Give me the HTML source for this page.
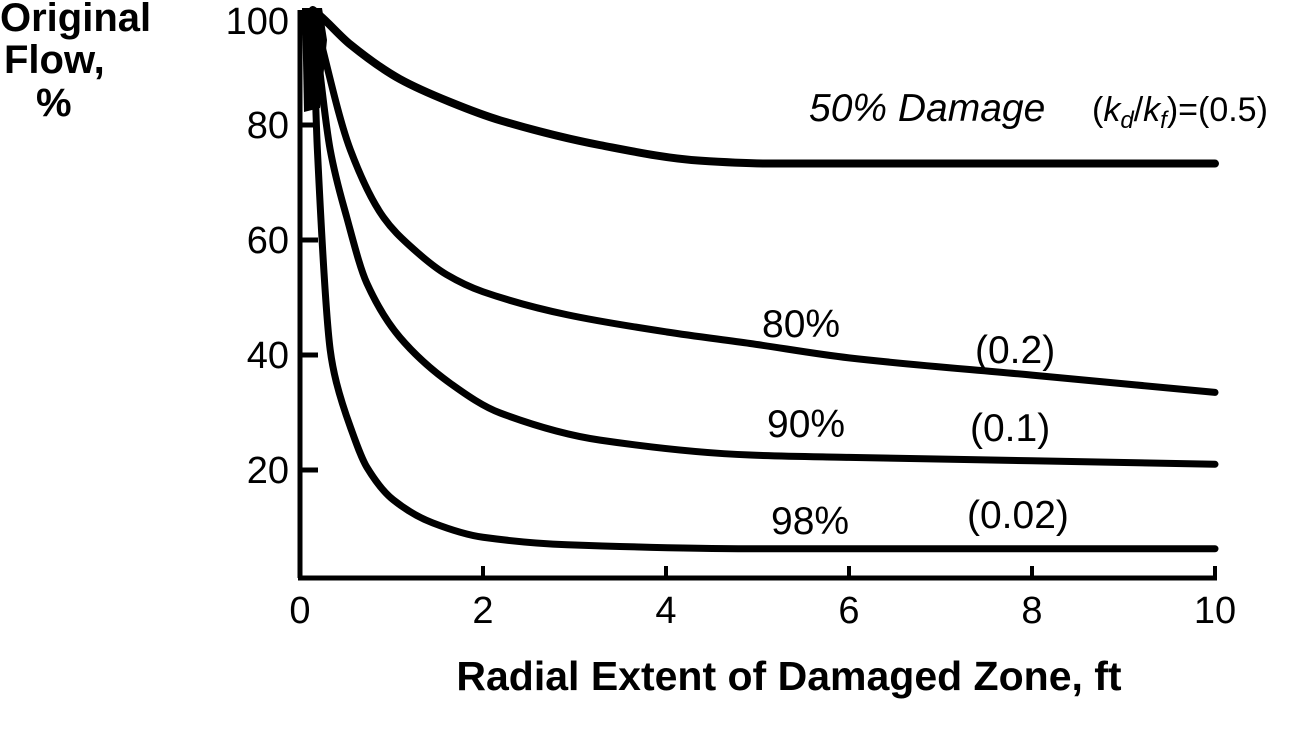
<!DOCTYPE html>
<html><head><meta charset="utf-8"><style>
body{margin:0;background:#fff;}
svg text{font-family:"Liberation Sans",Arial,sans-serif;fill:#000;}
</style></head><body>
<svg width="1299" height="726" viewBox="0 0 1299 726" xmlns="http://www.w3.org/2000/svg">
<g id="g"></g>
</svg>
<script>
const xTicks=[0,2,4,6,8,10];
const yTicks=[20,40,60,80,100];
const s50=[[0.14,100],[0.22,99],[0.55,94],[1.09,88],[1.64,84],[2.19,80.8],[3.28,76.5],[4.37,73.8],[5.14,73.3],[6,73.3],[8,73.3],[10,73.3]];
const s80=[[0.14,100],[0.55,75.7],[0.91,64],[1.2,59],[1.6,54],[2.0,51],[2.92,47],[4.01,44],[4.92,42],[6,39.5],[8,36.5],[10,33.5]];
const s90=[[0.14,100],[0.33,75.7],[0.51,64],[0.73,52.5],[1.09,43.1],[1.64,35.1],[2.19,29.9],[3.28,25.2],[4.92,22.6],[6,22.2],[8,21.6],[10,21]];
const s98=[[0.14,100],[0.19,75.7],[0.33,40.9],[0.40,35.1],[0.55,27.5],[0.73,20.5],[1.02,14.8],[1.45,10.8],[2.0,8.3],[2.92,7],[4.92,6.3],[10,6.3]];
const X=v=>300+91.5*v, Y=v=>585-5.75*v;
const NS='http://www.w3.org/2000/svg', g=document.getElementById('g');
function mk(t,a,txt){const e=document.createElementNS(NS,t);for(const k in a)e.setAttribute(k,a[k]);if(txt!==undefined)e.textContent=txt;g.appendChild(e);return e;}
function path(pts){const p=pts.map(d=>[X(d[0]),Y(d[1])]);const n=p.length;
const d=[],m=[];for(let i=0;i<n-1;i++)d.push((p[i+1][1]-p[i][1])/(p[i+1][0]-p[i][0]));
m[0]=d[0];m[n-1]=d[n-2];for(let i=1;i<n-1;i++){m[i]=(d[i-1]*d[i]<=0)?0:2/(1/d[i-1]+1/d[i]);}
let s='M'+p[0][0]+','+p[0][1];
for(let i=0;i<n-1;i++){const h=p[i+1][0]-p[i][0];
s+=' C'+(p[i][0]+h/3)+','+(p[i][1]+m[i]*h/3)+' '+(p[i+1][0]-h/3)+','+(p[i+1][1]-m[i+1]*h/3)+' '+p[i+1][0]+','+p[i+1][1];}return s;}
let e;
e=mk('line',{x1:300,y1:10,x2:300,y2:578,stroke:'#000','stroke-width':5});

e=mk('line',{x1:298,y1:578,x2:1217,y2:578,stroke:'#000','stroke-width':5});

e=mk('path',{d:'M302,8 L322,8 L327,40 L320,108 L304,112 Z',fill:'#000'});

xTicks.forEach(v=>{if(v>0){e=mk('line',{x1:X(v),y1:578,x2:X(v),y2:566,stroke:'#000','stroke-width':4});
}
e=mk('text',{x:X(v),y:623,'font-size':38,'text-anchor':'middle'},v);
});
yTicks.forEach(v=>{if(v<100){e=mk('line',{x1:300,y1:Y(v),x2:318,y2:Y(v),stroke:'#000','stroke-width':5});
}
e=mk('text',{x:289,y:Math.max(Y(v)+13,34),'font-size':38,'text-anchor':'end'},v);
});
[[s50,'curve-50',8],[s80,'curve-80',7],[s90,'curve-90',7],[s98,'curve-98',7]].forEach(c=>{
e=mk('path',{d:path(c[0]),fill:'none',stroke:'#000','stroke-width':c[2],'stroke-linecap':'round'});
});
const labels=[[809,121,'50% Damage','italic',39,'label-50'],[762,337,'80%','normal',39,'label-80'],[975,363,'(0.2)','normal',39,'label-02'],
[767,437,'90%','normal',39,'label-90'],[970,441,'(0.1)','normal',39,'label-01'],[771,534,'98%','normal',39,'label-98'],[967,528,'(0.02)','normal',39,'label-002']];
labels.forEach(l=>{e=mk('text',{x:l[0],y:l[1],'font-size':l[4],'font-style':l[3]},l[2]);
});
e=mk('text',{x:1092,y:121,'font-size':34});
e.innerHTML='(<tspan font-style="italic">k</tspan><tspan font-size="24" dy="7" font-style="italic">d</tspan><tspan dy="-7">/</tspan><tspan font-style="italic">k</tspan><tspan font-size="24" dy="7" font-style="italic">f</tspan><tspan dy="-7">)=(0.5)</tspan>';

[['Original',0,31],['Flow,',4,73],['%',36,116]].forEach(t=>{e=mk('text',{x:t[1],y:t[2],'font-size':40,'font-weight':'bold'},t[0]);
});
e=mk('text',{x:789,y:690,'font-size':41,'font-weight':'bold','text-anchor':'middle'},'Radial Extent of Damaged Zone, ft');

</script>
</body></html>
